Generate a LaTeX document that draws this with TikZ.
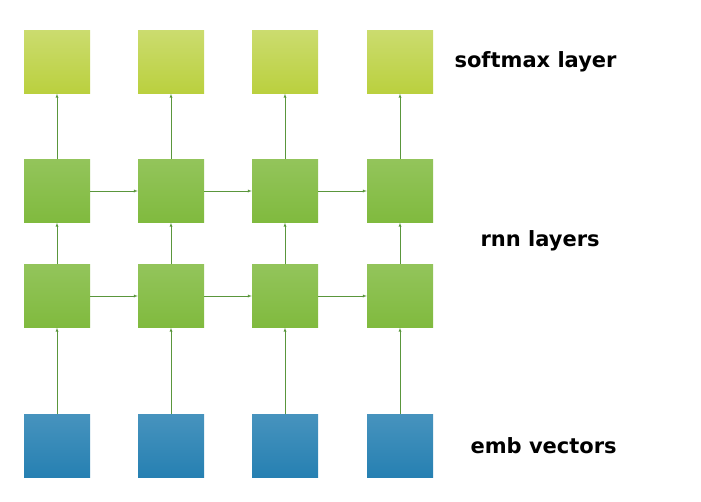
\documentclass[tikz,border=0pt]{standalone}
\usepackage{fontspec}
\setmainfont{DejaVu Sans}
\usetikzlibrary{arrows}
\definecolor{smx}{RGB}{186,208,62}
\definecolor{rnn}{RGB}{128,186,62}
\definecolor{emb}{RGB}{38,128,178}
\definecolor{edge}{RGB}{90,150,60}
\begin{document}
\begin{tikzpicture}[x=1pt,y=-1pt,->,>=latex,
                    box/.style={rectangle,minimum width=66pt,minimum height=63pt,inner sep=0pt},
                    label/.style={font=\bfseries\fontsize{21}{24}\selectfont,anchor=west}]
\useasboundingbox (0,0) rectangle (701,501);
\foreach \i/\x in {1/57,2/171,3/285,4/400}{
  \node[box,top color=smx!75!white,bottom color=smx] (s\i) at (\x,62) {};
  \node[box,top color=rnn!85!white,bottom color=rnn] (h\i) at (\x,191) {};
  \node[box,top color=rnn!85!white,bottom color=rnn] (r\i) at (\x,296) {};
  \node[box,top color=emb!85!white,bottom color=emb] (e\i) at (\x,446) {};
}
\node[label] (tsmx) at (451,62) {softmax layer};
\node[label] (trnn) at (477,241) {rnn layers};
\node[label] (temb) at (467,446) {emb vectors};
\begin{scope}[edge,thin]
\foreach \i in {1,...,4}{
  \draw (e\i) -- (r\i);
  \draw (r\i) -- (h\i);
  \draw (h\i) -- (s\i);
}
\foreach \i/\j in {1/2,2/3,3/4}{
  \draw (r\i) -- (r\j);
  \draw (h\i) -- (h\j);
}
\end{scope}
\end{tikzpicture}
\end{document}
